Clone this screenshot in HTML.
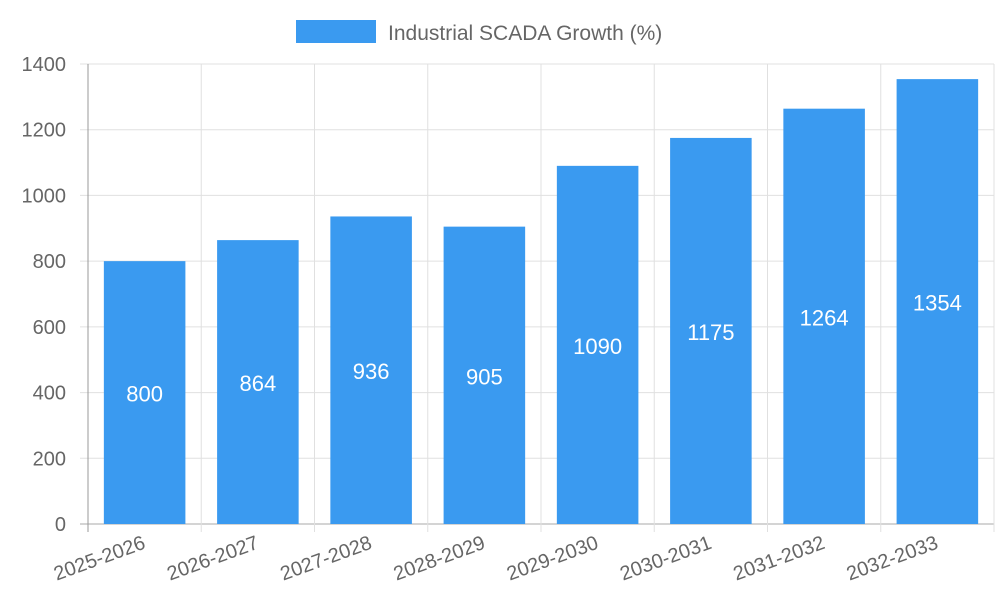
<!DOCTYPE html>
<html><head><meta charset="utf-8"><style>
body{margin:0;background:#fff;}
svg text{font-family:"Liberation Sans",sans-serif;}
</style></head><body>
<svg id="chart" width="1000" height="600" xmlns="http://www.w3.org/2000/svg">
<g id="legend">
<rect x="296" y="20" width="80" height="23" fill="#3a9af0"/>
<text x="388" y="40" font-size="21" fill="#666">Industrial SCADA Growth (%)</text>
</g>
<g id="grid"></g><g id="bars"></g><g id="labels"></g>
</svg>
<script>
const categories=["2025-2026","2026-2027","2027-2028","2028-2029","2029-2030","2030-2031","2031-2032","2032-2033"];
const values=[800,864,936,905,1090,1175,1264,1354];
const yTicks=[0,200,400,600,800,1000,1200,1400];
const L=88,R=994,T=64,B=524,yMax=1400;
const slot=(R-L)/categories.length;
const xs=i=>L+slot*i;
const ys=v=>B-(v/yMax)*(B-T);
const NS="http://www.w3.org/2000/svg";
function mk(tag,attrs,parent,txt){const e=document.createElementNS(NS,tag);for(const k in attrs)e.setAttribute(k,attrs[k]);if(txt!==undefined)e.textContent=txt;document.getElementById(parent).appendChild(e);return e;}
yTicks.forEach(t=>{
 const y=ys(t);
 const g=mk('line',{x1:L-8,x2:R,y1:y,y2:y,stroke:t===0?'#aaa':'#e0e0e0','stroke-width':1},'grid');
 
 
 const tx=mk('text',{x:L-22,y:y+7,'text-anchor':'end','font-size':20,fill:'#666'},'labels',String(t));
 
 
});
for(let i=0;i<=categories.length;i++){
 const x=xs(i);
 const g=mk('line',{x1:x,x2:x,y1:T,y2:B+8,stroke:i===0?'#999':'#e0e0e0','stroke-width':1},'grid');
 
 
}
categories.forEach((c,i)=>{
 const bw=slot*0.72,x=xs(i)+(slot-bw)/2,y=ys(values[i]);
 const r=mk('rect',{x:x,y:y,width:bw,height:B-y,fill:'#3a9af0'},'bars');
 
 
 const v=mk('text',{x:x+bw/2,y:(y+B)/2+9,'text-anchor':'middle','font-size':22,fill:'#fff'},'labels',String(values[i]));
 
 
 const cx=xs(i)+slot/2+2,cy=B+24;
 const t=mk('text',{x:cx,y:cy,'text-anchor':'end','font-size':20,fill:'#666',transform:'rotate(-20 '+cx+' '+cy+')'},'labels',c);
 
 
});
</script>
</body></html>
